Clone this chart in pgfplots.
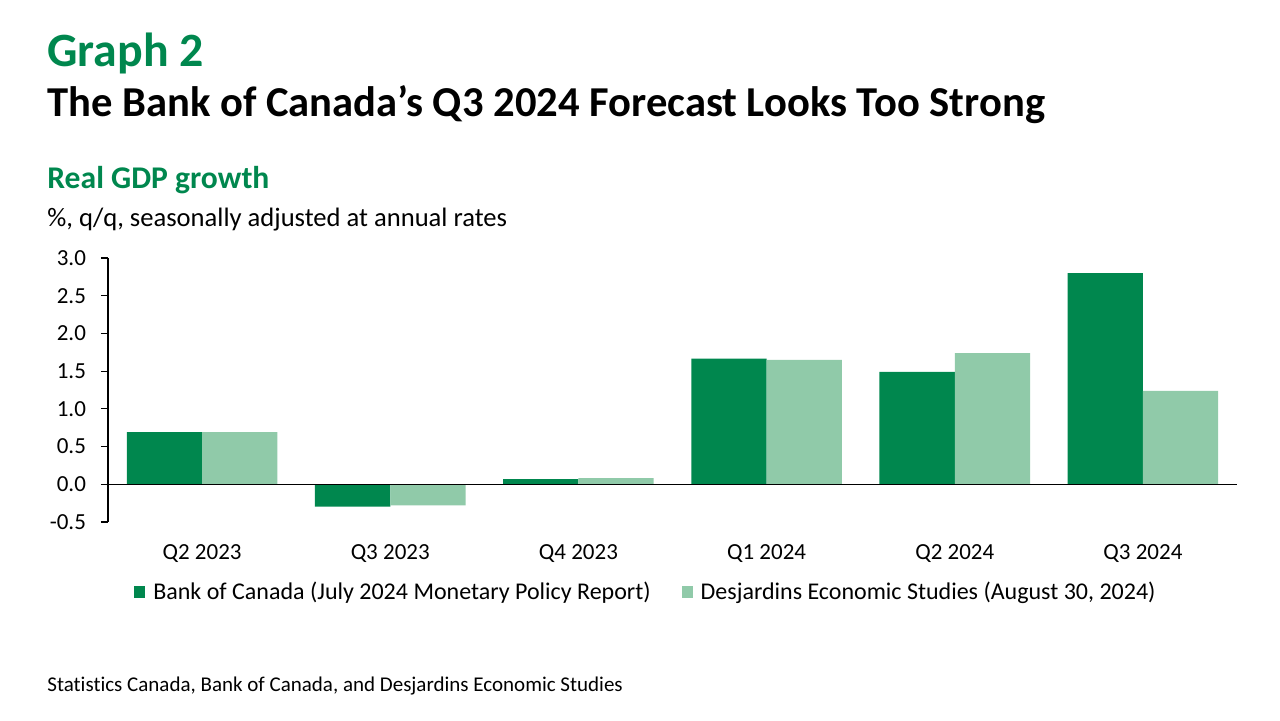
\documentclass[border=0pt]{standalone}
\usepackage{fontspec}
\setmainfont{Carlito}[Ligatures=NoCommon]
\usepackage{pgfplots}
\pgfplotsset{compat=1.18}
\definecolor{dkgreen}{HTML}{00874E}
\definecolor{ltgreen}{HTML}{90CAA9}
\begin{document}
\begin{tikzpicture}
\useasboundingbox (0,0) rectangle (640pt,360pt);
\node[anchor=base west, inner sep=0pt, text=dkgreen, font=\fontsize{23.9pt}{28pt}\selectfont\bfseries] at (23.5pt,326.6pt) {Graph 2};
\node[anchor=base west, inner sep=0pt, font=\fontsize{21.3pt}{25pt}\selectfont\bfseries] at (23.5pt,301.6pt) {The Bank of Canada’s Q3 2024 Forecast Looks Too Strong};
\node[anchor=base west, inner sep=0pt, text=dkgreen, font=\fontsize{15.8pt}{18pt}\selectfont\bfseries] at (23.5pt,265.8pt) {Real GDP growth};
\node[anchor=base west, inner sep=0pt, font=\fontsize{13.3pt}{16pt}\selectfont] at (23.5pt,246.6pt) {\%, q/q, seasonally adjusted at annual rates};
\node[anchor=base west, inner sep=0pt, font=\fontsize{10.5pt}{12pt}\selectfont] at (23.5pt,14.5pt) {Statistics Canada, Bank of Canada, and Desjardins Economic Studies};
\begin{axis}[
  at={(54pt,99pt)}, anchor=south west,
  scale only axis, width=564.5pt, height=132pt,
  xmin=-0.5, xmax=5.5, ymin=-0.5, ymax=3.0,
  ytick={-0.5,0,0.5,1,1.5,2,2.5,3},
  yticklabel style={/pgf/number format/fixed, /pgf/number format/fixed zerofill, /pgf/number format/precision=1, font=\fontsize{11.5pt}{13pt}\selectfont, xshift=-4pt},
  /pgf/number format/assume math mode=true,
  xtick={0,1,2,3,4,5},
  xticklabels={Q2 2023,Q3 2023,Q4 2023,Q1 2024,Q2 2024,Q3 2024},
  xticklabel style={font=\fontsize{11.5pt}{13pt}\selectfont, yshift=-8pt},
  separate axis lines,
  axis y line*=left, axis x line*=bottom,
  x axis line style={draw=none},
  y axis line style={black, line width=0.6pt, -},
  x tick style={draw=none},
  y tick style={black, line width=0.6pt},
  major tick length=3.5pt,
  ytick align=outside,
  legend style={at={(0.4756,-0.265)}, anchor=center, draw=none, legend columns=2, font=\fontsize{12pt}{14pt}\selectfont, inner sep=0pt,
    /tikz/every odd column/.append style={column sep=4pt},
    /tikz/every even column/.append style={column sep=15.5pt},
    nodes={inner sep=0pt}},
  legend image code/.code={\fill[#1] (0pt,-3pt) rectangle (5.5pt,3pt);},
  legend cell align=left,
]
\addplot[ybar, bar width=0.4, bar shift=-0.2, fill=dkgreen, draw=none] coordinates {(0,0.69) (1,-0.295) (2,0.07) (3,1.665) (4,1.49) (5,2.80)};
\addlegendentry{Bank of Canada (July 2024 Monetary Policy Report)}
\addplot[ybar, bar width=0.4, bar shift=0.2, fill=ltgreen, draw=none] coordinates {(0,0.69) (1,-0.28) (2,0.083) (3,1.65) (4,1.74) (5,1.24)};
\addlegendentry{Desjardins Economic Studies (August 30, 2024)}
\draw[black, line width=0.7pt] (axis cs:-0.5,0) -- (axis cs:5.5,0);
\end{axis}
\end{tikzpicture}
\end{document}
